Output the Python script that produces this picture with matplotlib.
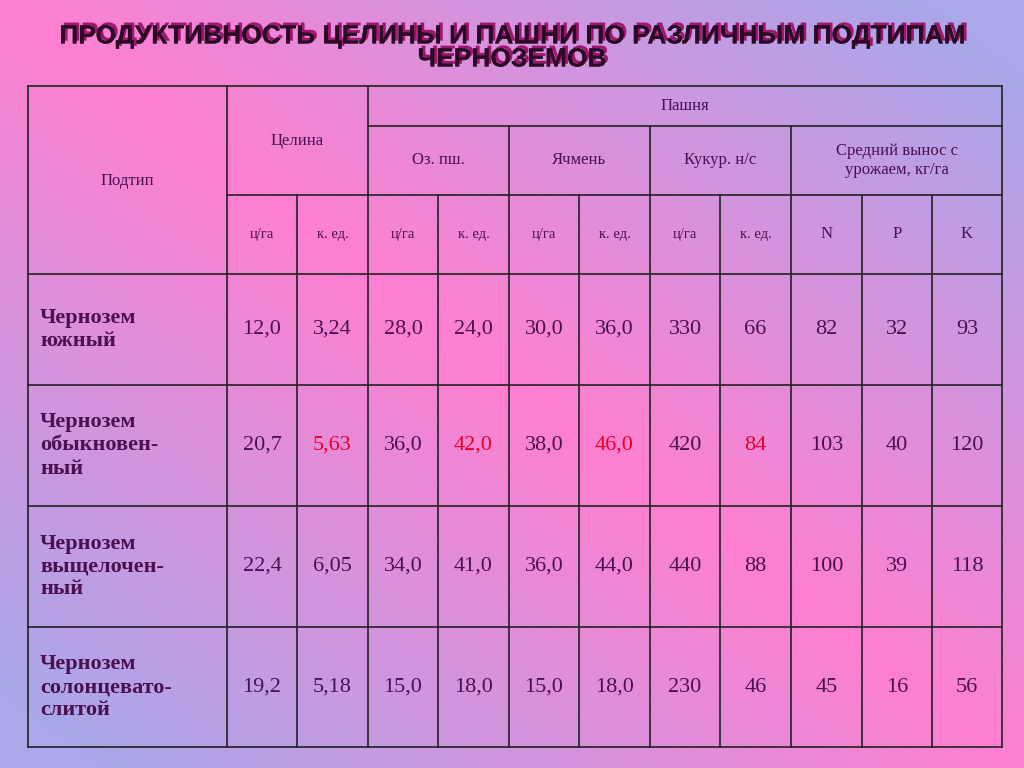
import numpy as np
import matplotlib.pyplot as plt
import matplotlib.patheffects as pe

title = "ПРОДУКТИВНОСТЬ ЦЕЛИНЫ И ПАШНИ ПО РАЗЛИЧНЫМ ПОДТИПАМ\nЧЕРНОЗЕМОВ"
subtypes = ["Чернозем\nюжный", "Чернозем\nобыкновен-\nный",
            "Чернозем\nвыщелочен-\nный", "Чернозем\nсолонцевато-\nслитой"]
groups = ["Оз. пш.", "Ячмень", "Кукур. н/с", "Средний вынос с\nурожаем, кг/га"]
units = ["ц/га", "к. ед.", "ц/га", "к. ед.", "ц/га", "к. ед.", "ц/га", "к. ед.", "N", "P", "K"]
values = [
    ["12,0", "3,24", "28,0", "24,0", "30,0", "36,0", "330", "66", "82", "32", "93"],
    ["20,7", "5,63", "36,0", "42,0", "38,0", "46,0", "420", "84", "103", "40", "120"],
    ["22,4", "6,05", "34,0", "41,0", "36,0", "44,0", "440", "88", "100", "39", "118"],
    ["19,2", "5,18", "15,0", "18,0", "15,0", "18,0", "230", "46", "45", "16", "56"],
]
# red highlighted cells (row, col)
highlight = [(1, 1), (1, 3), (1, 5), (1, 7)]

W, H = 1024, 768
xs = [28, 227, 297, 368, 438, 509, 579, 650, 720, 791, 862, 932, 1002]
ys = [86, 126, 195, 274, 385, 506, 627, 747]

fig = plt.figure(figsize=(W / 100, H / 100), dpi=100)
ax = fig.add_axes([0, 0, 1, 1])
ax.set_xlim(0, W)
ax.set_ylim(H, 0)
ax.axis("off")

# background gradient: pink along the main diagonal, lavender at the other corners
u, v = np.meshgrid(np.linspace(0, 1, 256), np.linspace(0, 1, 192))
t = np.clip(np.abs(u - v) * 1.1, 0, 1)[..., None]
pink = np.array([1.0, 0.50, 0.82])
lav = np.array([0.66, 0.66, 0.92])
ax.imshow(pink * (1 - t) + lav * t, extent=[0, W, H, 0], aspect="auto", zorder=0)

ax.text(W / 2, 48, title, ha="center", va="center", fontsize=19, fontweight="bold",
        family="Liberation Sans", color="#2a0a25", linespacing=0.95,
        path_effects=[pe.withSimplePatchShadow(offset=(2, 2), shadow_rgbFace="#a0156e", alpha=1.0),
                      pe.Normal()])

lc = "#222222"
lw = 1.2
def hline(y, x0, x1):
    ax.plot([x0, x1], [y, y], color=lc, lw=lw, zorder=2)
def vline(x, y0, y1):
    ax.plot([x, x], [y0, y1], color=lc, lw=lw, zorder=2)

hline(ys[0], xs[0], xs[-1])
hline(ys[1], xs[3], xs[-1])
hline(ys[2], xs[1], xs[-1])
for y in ys[3:]:
    hline(y, xs[0], xs[-1])
vline(xs[0], ys[0], ys[-1]); vline(xs[-1], ys[0], ys[-1])
vline(xs[1], ys[0], ys[-1]); vline(xs[3], ys[0], ys[-1])
for i in [5, 7, 9]:
    vline(xs[i], ys[1], ys[-1])
for i in [2, 4, 6, 8, 10, 11]:
    vline(xs[i], ys[2], ys[-1])

tc = "#4a1050"
serif = "Liberation Serif"
ax.text((xs[0] + xs[1]) / 2, 181, "Подтип", ha="center", va="center", fontsize=12, color=tc, family=serif)
ax.text((xs[1] + xs[3]) / 2, 141, "Целина", ha="center", va="center", fontsize=12, color=tc, family=serif)
ax.text((xs[3] + xs[-1]) / 2, 106, "Пашня", ha="center", va="center", fontsize=12, color=tc, family=serif)
for g, name in enumerate(groups):
    x0, x1 = (xs[3 + 2 * g], xs[5 + 2 * g]) if g < 3 else (xs[9], xs[12])
    ax.text((x0 + x1) / 2, (ys[1] + ys[2]) / 2, name, ha="center", va="center",
            fontsize=12, color=tc, family=serif, linespacing=1.3)
for j, unit in enumerate(units):
    ax.text((xs[j + 1] + xs[j + 2]) / 2, (ys[2] + ys[3]) / 2, unit, ha="center", va="center",
            fontsize=10.5 if j < 8 else 12, color=tc, family=serif)

for r, name in enumerate(subtypes):
    yc = (ys[3 + r] + ys[4 + r]) / 2
    ax.text(40, yc, name, ha="left", va="center", fontsize=16, color=tc, family=serif,
            fontweight="bold", linespacing=1.2)
    for j, val in enumerate(values[r]):
        col = "#e8002a" if (r, j) in highlight else tc
        ax.text((xs[j + 1] + xs[j + 2]) / 2, yc, val, ha="center", va="center",
                fontsize=16, color=col, family=serif)

fig.savefig("out.png", dpi=100)
